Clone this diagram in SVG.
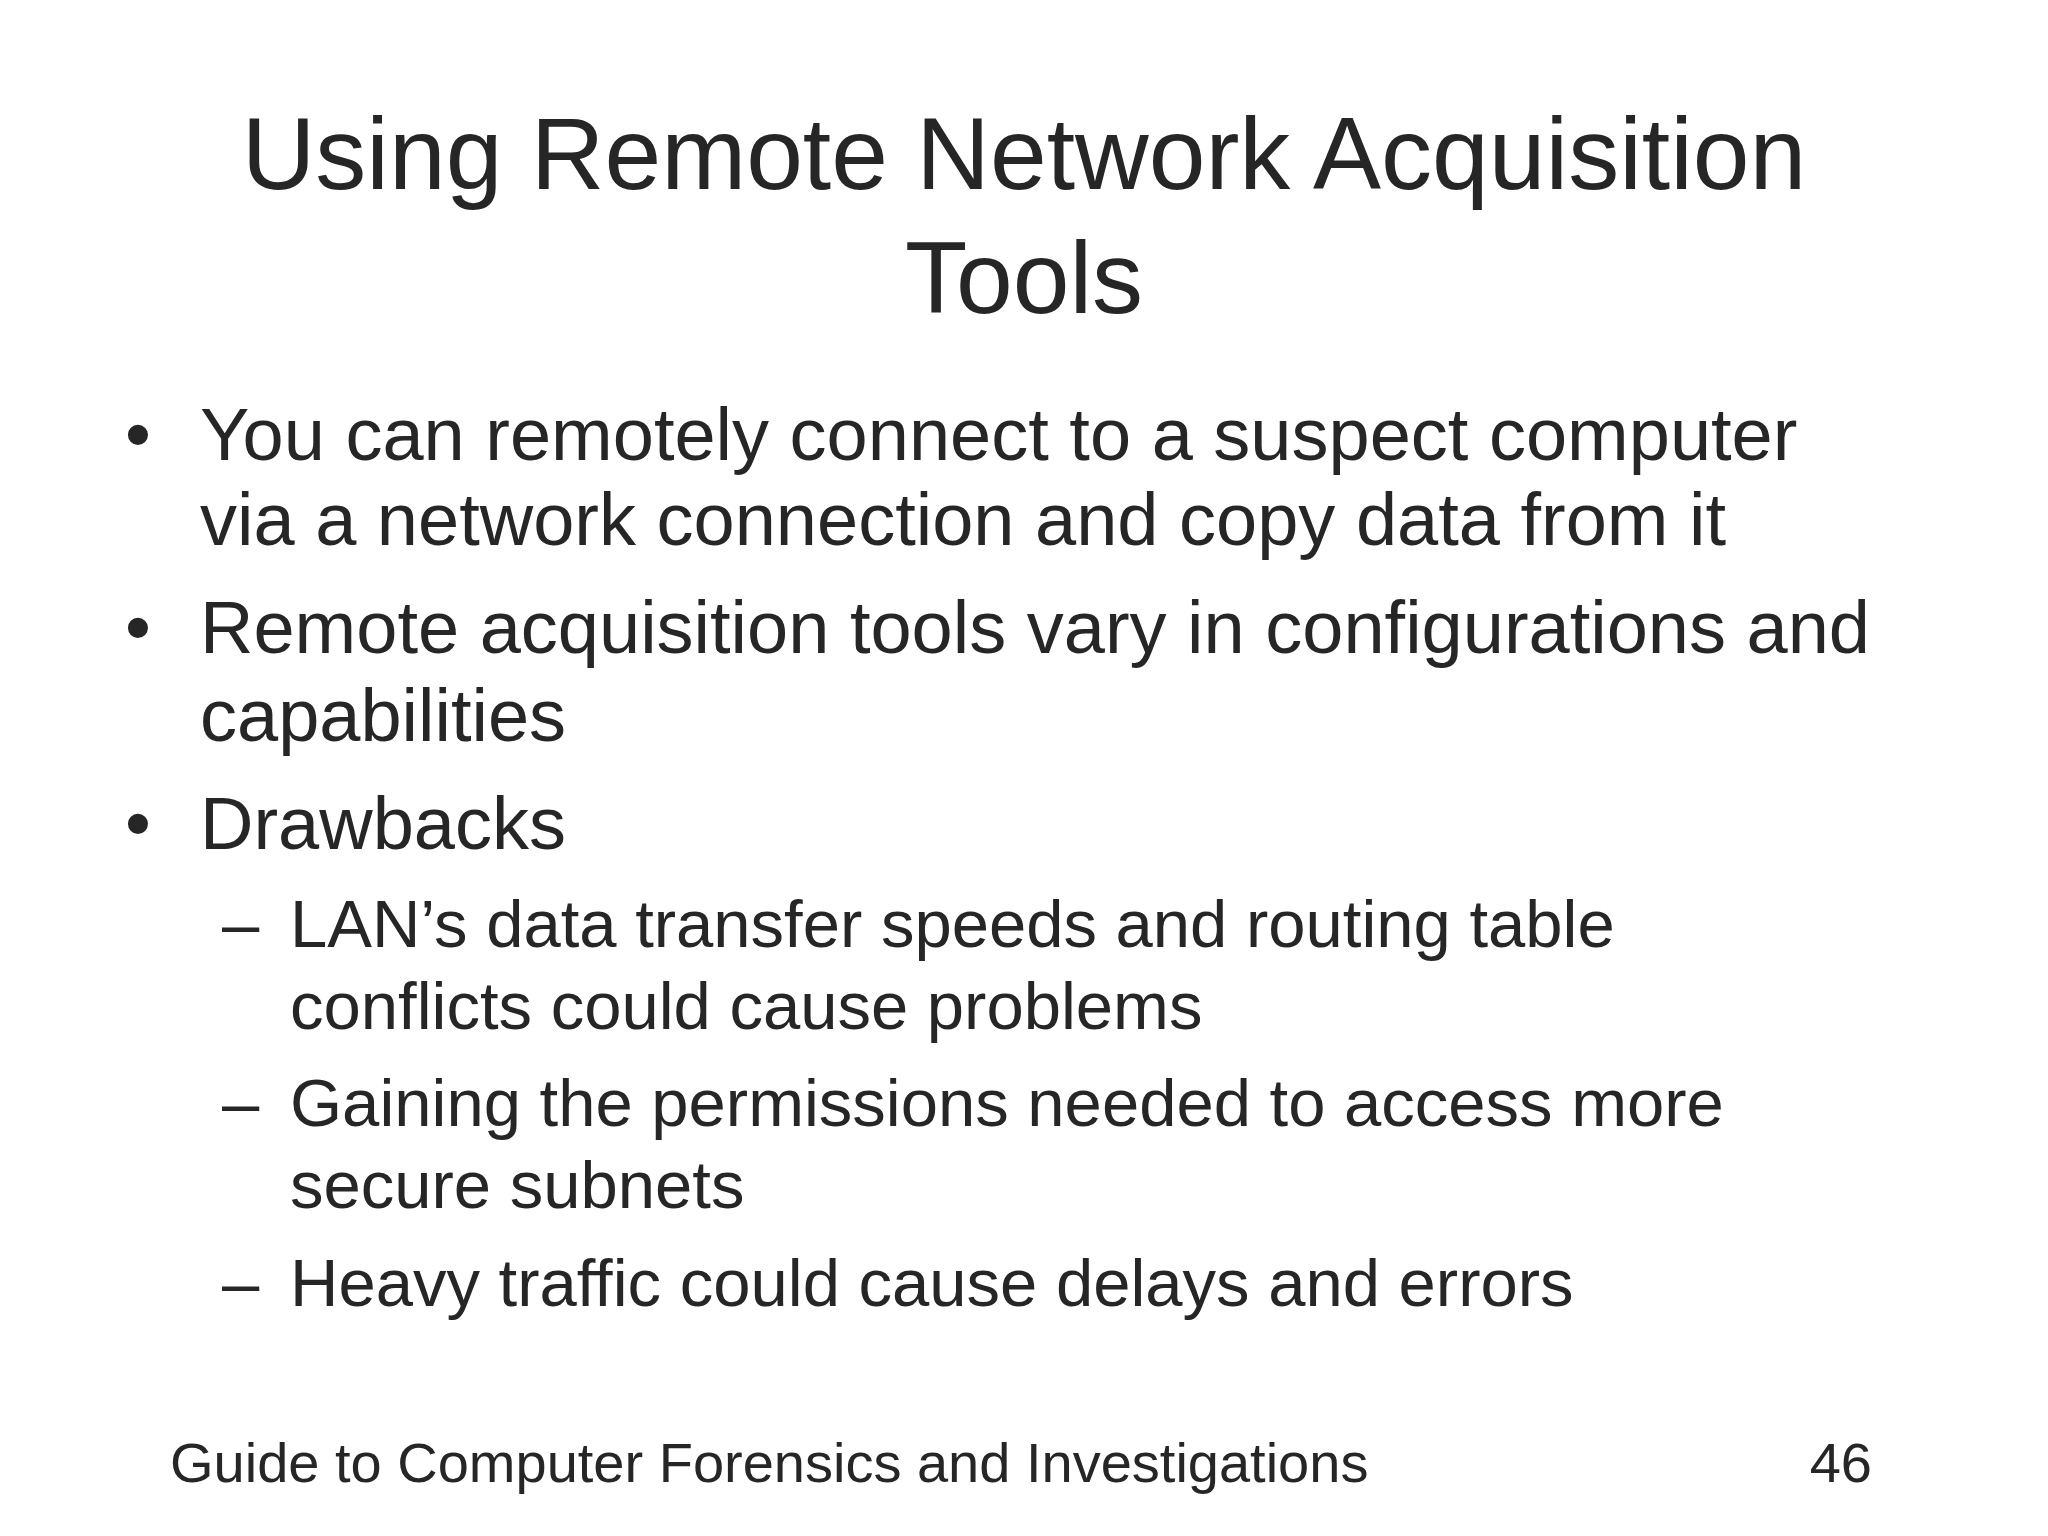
<svg xmlns="http://www.w3.org/2000/svg" width="2048" height="1536" viewBox="0 0 2048 1536">
<style>
text{font-family:"Liberation Sans",Arial,sans-serif;fill:#262626}
.t{font-size:102px;text-anchor:middle}
.b{font-size:74px}
.s{font-size:67px}
.f{font-size:56px}
</style>
<rect width="2048" height="1536" fill="#fff"/>
<g id="title">
<text class="t" x="1024" y="189">Using Remote Network Acquisition</text>
<text class="t" x="1024" y="313">Tools</text>
</g>
<g id="bullets">
<text class="b" x="125" y="460">•</text>
<text class="b" x="200" y="460">You can remotely connect to a suspect computer</text>
<text class="b" x="200" y="545">via a network connection and copy data from it</text>
<text class="b" x="125" y="653">•</text>
<text class="b" x="200" y="653">Remote acquisition tools vary in configurations and</text>
<text class="b" x="200" y="741">capabilities</text>
<text class="b" x="125" y="849">•</text>
<text class="b" x="200" y="849">Drawbacks</text>
<text class="s" x="222" y="947">–</text>
<text class="s" x="290" y="947">LAN’s data transfer speeds and routing table</text>
<text class="s" x="290" y="1029">conflicts could cause problems</text>
<text class="s" x="222" y="1126">–</text>
<text class="s" x="290" y="1126">Gaining the permissions needed to access more</text>
<text class="s" x="290" y="1208">secure subnets</text>
<text class="s" x="222" y="1306">–</text>
<text class="s" x="290" y="1306">Heavy traffic could cause delays and errors</text>
</g>
<g id="footer">
<text class="f" x="170" y="1482">Guide to Computer Forensics and Investigations</text>
<text class="f" x="1872" y="1482" text-anchor="end">46</text>
</g>
</svg>
